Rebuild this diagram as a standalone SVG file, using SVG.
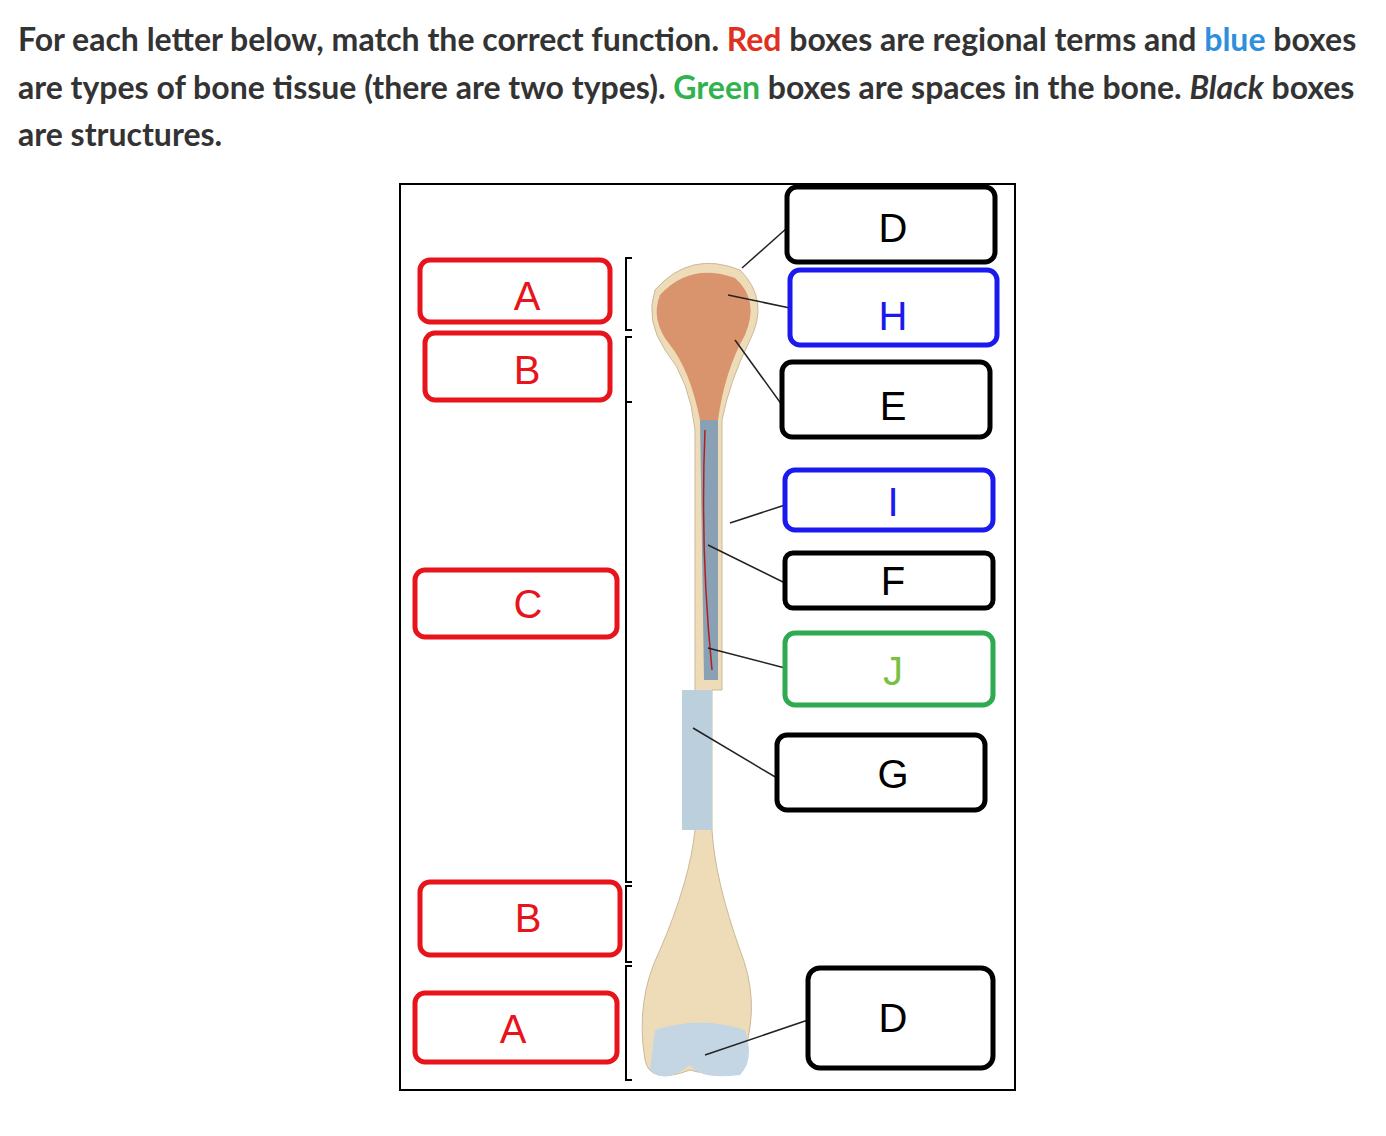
<svg xmlns="http://www.w3.org/2000/svg" width="1386" height="1136" viewBox="0 0 1386 1136">
<style>
.t{font-family:Lato,"Liberation Sans",sans-serif;font-size:32px;font-weight:bold;fill:#333}
.b{fill:#fff;stroke-width:5}
.k{stroke:#000}.r{stroke:#e8141c}.u{stroke:#1a1aee}.g{stroke:#2eaa50}
.l{font-family:"Liberation Sans",Arial,sans-serif;font-size:40px;text-anchor:middle}
.c{stroke:#222;stroke-width:1.5;fill:none}
</style>
<rect width="1386" height="1136" fill="#fff"/>
<text class="t" x="18" y="51">For each letter below, match the correct function. <tspan fill="#e03020">Red</tspan> boxes are regional terms and <tspan fill="#2e8fdc">blue</tspan> boxes</text>
<text class="t" x="18" y="99">are types of bone tissue (there are two types). <tspan fill="#2eb34f">Green</tspan> boxes are spaces in the bone. <tspan font-style="italic">Black</tspan> boxes</text>
<text class="t" x="18" y="146">are structures.</text>
<rect x="400" y="184" width="615" height="906" fill="none" stroke="#000" stroke-width="2"/>
<g id="bone">
<path d="M655 290 Q690 250 740 270 Q770 300 750 340 Q730 380 722 420 L722 690 L712 690 L712 830 Q715 880 740 950 Q760 1000 745 1050 Q720 1080 690 1070 Q650 1085 645 1060 Q635 1000 660 950 Q690 880 695 830 L695 430 Q690 380 665 350 Q645 320 655 290Z" fill="#eedcb8" stroke="#cbb89a"/>
<path d="M660 295 Q690 262 735 278 Q760 300 745 335 Q725 370 718 420 L700 420 Q690 370 670 345 Q650 320 660 295Z" fill="#d9946e"/>
<path d="M700 420 L718 420 L718 680 L704 680Z" fill="#8aa0b4"/>
<path d="M682 690 L712 690 L712 830 L682 830Z" fill="#bccfdc"/>
<path d="M655 1030 Q700 1015 745 1030 Q755 1060 740 1075 Q700 1080 690 1065 Q665 1085 650 1070Z" fill="#c4d6e4"/>
<path d="M705 430 Q700 550 712 670" stroke="#b02020" fill="none" stroke-width="1.5"/>
</g>
<g id="brackets" stroke="#000" stroke-width="2" fill="none">
<path d="M632 258 L626 258 L626 330 L632 330"/>
<path d="M632 337 L626 337 L626 402 L632 402"/>
<path d="M632 402 L626 402 L626 882 L632 882"/>
<path d="M632 886 L626 886 L626 962 L632 962"/>
<path d="M632 966 L626 966 L626 1080 L632 1080"/>
</g>
<g id="connectors">
<line class="c" x1="742" y1="268" x2="787" y2="228"/>
<line class="c" x1="728" y1="295" x2="790" y2="308"/>
<line class="c" x1="735" y1="340" x2="782" y2="405"/>
<line class="c" x1="730" y1="523" x2="785" y2="505"/>
<line class="c" x1="708" y1="545" x2="785" y2="583"/>
<line class="c" x1="708" y1="648" x2="785" y2="668"/>
<line class="c" x1="693" y1="728" x2="777" y2="778"/>
<line class="c" x1="705" y1="1055" x2="808" y2="1020"/>
</g>
<g id="D1"><rect class="b k" x="787" y="187" width="208" height="75" rx="10"/><text class="l" x="893" y="242">D</text></g>
<g id="H"><rect class="b u" x="790" y="270" width="207" height="75" rx="10"/><text class="l" x="893" y="330" fill="#1a1aee">H</text></g>
<g id="E"><rect class="b k" x="782" y="362" width="208" height="75" rx="10"/><text class="l" x="893" y="420">E</text></g>
<g id="I"><rect class="b u" x="785" y="470" width="208" height="60" rx="10"/><text class="l" x="893" y="516" fill="#1a1aee">I</text></g>
<g id="F"><rect class="b k" x="785" y="553" width="208" height="55" rx="8"/><text class="l" x="893" y="595">F</text></g>
<g id="J"><rect class="b g" x="785" y="633" width="208" height="72" rx="10"/><text class="l" x="893" y="685" fill="#7ac043">J</text></g>
<g id="G"><rect class="b k" x="777" y="735" width="208" height="75" rx="10"/><text class="l" x="893" y="788">G</text></g>
<g id="D2"><rect class="b k" x="808" y="968" width="185" height="100" rx="12"/><text class="l" x="893" y="1032">D</text></g>
<g id="A1"><rect class="b r" x="420" y="260" width="190" height="62" rx="10"/><text class="l" x="527" y="310" fill="#e8141c">A</text></g>
<g id="B1"><rect class="b r" x="425" y="333" width="185" height="67" rx="10"/><text class="l" x="527" y="384" fill="#e8141c">B</text></g>
<g id="C"><rect class="b r" x="415" y="570" width="202" height="67" rx="10"/><text class="l" x="528" y="618" fill="#e8141c">C</text></g>
<g id="B2"><rect class="b r" x="420" y="882" width="200" height="73" rx="10"/><text class="l" x="528" y="932" fill="#e8141c">B</text></g>
<g id="A2"><rect class="b r" x="415" y="993" width="202" height="69" rx="10"/><text class="l" x="513" y="1043" fill="#e8141c">A</text></g>
</svg>
